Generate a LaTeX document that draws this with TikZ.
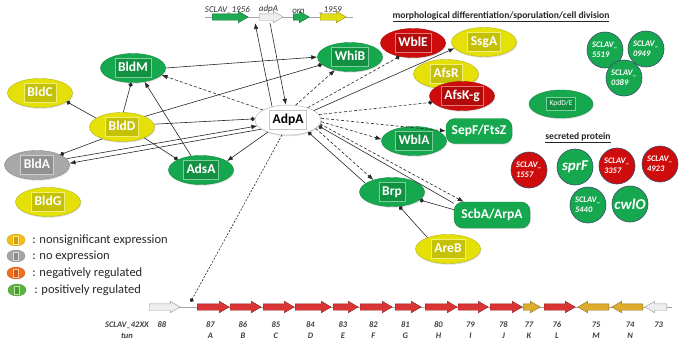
\documentclass[tikz,border=0pt]{standalone}
\usepackage{fontspec}
\setmainfont{Carlito}
\usetikzlibrary{arrows.meta,positioning,shapes.geometric,shapes.arrows,shadows,backgrounds}

\definecolor{nodeGreen}{RGB}{22,168,78}
\definecolor{nodeYellow}{RGB}{228,224,8}
\definecolor{nodeRed}{RGB}{206,12,12}
\definecolor{nodeGray}{RGB}{168,168,168}
\definecolor{circEdge}{RGB}{55,75,105}
\definecolor{geneRed}{RGB}{218,52,52}
\definecolor{geneGold}{RGB}{222,172,44}
\definecolor{geneWhite}{RGB}{238,238,238}
\definecolor{geneGreen}{RGB}{30,170,80}
\definecolor{geneYellow}{RGB}{225,222,20}
\definecolor{legYellow}{RGB}{245,190,20}
\definecolor{legGray}{RGB}{165,165,165}
\definecolor{legOrange}{RGB}{240,110,30}
\definecolor{legGreen}{RGB}{90,180,60}

\newsavebox{\nodetxt}

\begin{document}
\begin{tikzpicture}[
    x=1pt, y=-1pt,
    font=\bfseries\fontsize{13.5}{15}\selectfont,
    boxed/.style 2 args={execute at begin node={\setbox\nodetxt=\hbox\bgroup},
        execute at end node={\egroup\setlength{\fboxsep}{2pt}\fcolorbox{#1}{#2}{\hspace{1pt}\rule[-0.3em]{0pt}{1.1em}\usebox{\nodetxt}\hspace{1pt}}}},
    shade/.style={drop shadow={opacity=0.25, shadow xshift=0.8pt, shadow yshift=-1.2pt}},
    reg/.style={ellipse, draw=#1!80!black, line width=0.4pt, fill=#1, text=white, inner sep=0pt, minimum width=65pt, minimum height=29pt, shade, boxed={#1!55!white}{#1!86!black}},
    hub/.style={ellipse, draw=gray!55, line width=0.5pt, fill=white, text=black, inner sep=0pt, minimum width=66pt, minimum height=30pt, shade, boxed={gray!45}{white}},
    tag/.style={rectangle, rounded corners=9pt, draw=nodeGreen!80!black, line width=0.4pt, fill=nodeGreen, text=white, minimum width=66pt, minimum height=25pt, inner sep=2pt, shade},
    circ/.style={circle, draw=circEdge, line width=0.6pt, fill=#1, text=white, minimum size=36pt, inner sep=0pt, align=left, font=\bfseries\itshape\fontsize{8.5}{10}\selectfont},
    big/.style={font=\bfseries\itshape\fontsize{15}{17}\selectfont},
    head/.style={text=black!85, inner sep=1pt, font=\bfseries\fontsize{9.6}{11}\selectfont},
    legdot/.style={ellipse, fill=#1, draw=#1!80!black, line width=0.3pt, minimum width=18pt, minimum height=12pt, inner sep=0pt,
        path picture={\draw[white!60!#1, fill=#1!85!black, line width=0.3pt] ([shift={(-2.5pt,-4pt)}]path picture bounding box.center) rectangle ([shift={(2.5pt,4pt)}]path picture bounding box.center);}},
    legtxt/.style={text=black!85, inner sep=1pt, font=\fontsize{12.5}{14}\selectfont},
    gene/.style={single arrow, draw=#1!65!black, fill=#1, line width=0.4pt, minimum width=11pt, single arrow head extend=2.5pt, single arrow tip angle=60, inner xsep=0pt, inner ysep=3pt, anchor=tail},
    leftward/.style={shape border rotate=180},
    glab/.style={text=black!75, inner sep=0pt, align=center, font=\bfseries\itshape\fontsize{8.5}{11}\selectfont},
    gl/.style={glab, yshift=-11.5pt},
    tlab/.style={text=black!80, inner sep=0pt, font=\itshape\fontsize{9}{10}\selectfont},
    backbone/.style={draw=gray!70, line width=0.6pt},
    act/.style={-{Latex[length=6pt,width=4.5pt]}, draw=black!85, line width=0.6pt},
    rep/.style={-{Turned Square[length=4.5pt,width=4.5pt]}, draw=black!85, line width=0.6pt},
    dashline/.style={dash pattern=on 3pt off 2pt}
]
    \useasboundingbox (0,0) rectangle (685,343);

    % regulators around AdpA
    \node[reg=nodeGreen] (bldm) at (133,68) {BldM};
    \node[reg=nodeYellow] (bldc) at (40,93) {BldC};
    \node[reg=nodeYellow] (bldd) at (122,127) {BldD};
    \node[reg=nodeGray] (blda) at (37,165) {BldA};
    \node[reg=nodeGreen] (adsa) at (201,170) {AdsA};
    \node[reg=nodeYellow] (bldg) at (48,202) {BldG};
    \node[hub] (adpa) at (288,120) {AdpA};

    % targets
    \node[reg=nodeGreen] (whib) at (350,57) {WhiB};
    \node[reg=nodeRed] (wble) at (413,43) {WblE};
    \node[reg=nodeYellow] (ssga) at (484,42) {SsgA};
    \node[reg=nodeYellow] (afsr) at (446,74) {AfsR};
    \node[reg=nodeRed] (afsk) at (462,96) {AfsK-g};
    \node[tag] (sepf) at (479,131) {SepF/FtsZ};
    \node[reg=nodeGreen] (wbla) at (414,141) {WblA};
    \node[reg=nodeGreen] (brp) at (392,192) {Brp};
    \node[tag, minimum width=76pt, minimum height=26pt] (scba) at (492,215) {ScbA/ArpA};
    \node[reg=nodeYellow] (areb) at (448,249) {AreB};

    % right-hand groups
    \node[head] (hmorph) at (501,17) {\underline{morphological differentiation/sporulation/cell division}};
    \node[circ=nodeGreen] (c5519) at (605,50) {SCLAV\_\\5519};
    \node[circ=nodeGreen] (c0949) at (646,49) {SCLAV\_\\0949};
    \node[circ=nodeGreen] (c0389) at (624,78) {SCLAV\_\\0389};
    \node[reg=nodeGreen, font=\fontsize{7.5}{8.5}\selectfont, minimum width=64pt, minimum height=28pt] (kpdd) at (561,104) {KpdD/E};
    \node[head] (hsecr) at (578,138) {\underline{secreted protein}};
    \node[circ=nodeRed] (c1557) at (529,170) {SCLAV\_\\1557};
    \node[circ=nodeGreen, big] (sprf) at (575,167) {sprF};
    \node[circ=nodeRed] (c3357) at (617,166) {SCLAV\_\\3357};
    \node[circ=nodeRed] (c4923) at (660,164) {SCLAV\_\\4923};
    \node[circ=nodeGreen] (c5440) at (588,205) {SCLAV\_\\5440};
    \node[circ=nodeGreen, big] (cwlo) at (630,204) {cwlO};

    % legend
    \node[legdot=legYellow] (ly) at (16,240) {};
    \node[legtxt, right=6pt of ly] (lyt) {: nonsignificant expression};
    \node[legdot=legGray] (lg) at (16,256) {};
    \node[legtxt, right=6pt of lg] (lgt) {: no expression};
    \node[legdot=legOrange] (lo) at (16,273) {};
    \node[legtxt, right=6pt of lo] (lot) {: negatively regulated};
    \node[legdot=legGreen] (lp) at (17,290) {};
    \node[legtxt, right=7pt of lp] (lpt) {: positively regulated};

    % adpA locus
    \node[gene=geneGreen, minimum height=36pt, label distance=3.5pt, label={[tlab]above:SCLAV\_1956}] (g1956) at (212,17) {};
    \node[gene=geneWhite, minimum height=24pt, label distance=3.5pt, label={[tlab]above:adpA}] (gadpa) at (259,17) {};
    \node[gene=geneGreen, minimum height=16pt, label distance=3.5pt, label={[tlab]above:orn}] (gorn) at (293,17) {};
    \node[gene=geneYellow, minimum height=26pt, label distance=3.5pt, label={[tlab]above:\_1959}] (g1959) at (320,17) {};

    % tunicamycin cluster
    \node[glab, anchor=north] (tagcl) at (127,321.5) {SCLAV\_42XX\\tun};
    \node[gene=geneWhite, minimum height=31pt, label={[gl]below:88}] (g88) at (149,307) {};
    \node[gene=geneRed, minimum height=32pt, label={[gl]below:87\\A}] (g87) at (197,307) {};
    \node[gene=geneRed, minimum height=31pt, label={[gl]below:86\\B}] (g86) at (230,307) {};
    \node[gene=geneRed, minimum height=31pt, label={[gl]below:85\\C}] (g85) at (263,307) {};
    \node[gene=geneRed, minimum height=36pt, label={[gl]below:84\\D}] (g84) at (295,307) {};
    \node[gene=geneRed, minimum height=25pt, label={[gl]below:83\\E}] (g83) at (333,307) {};
    \node[gene=geneRed, minimum height=32pt, label={[gl]below:82\\F}] (g82) at (360,307) {};
    \node[gene=geneRed, minimum height=26pt, label={[gl]below:81\\G}] (g81) at (395,307) {};
    \node[gene=geneRed, minimum height=32pt, label={[gl]below:80\\H}] (g80) at (425,307) {};
    \node[gene=geneRed, minimum height=30pt, label={[gl]below:79\\I}] (g79) at (458,307) {};
    \node[gene=geneRed, minimum height=32pt, label={[gl]below:78\\J}] (g78) at (490,307) {};
    \node[gene=geneGold, minimum height=17pt, label={[gl]below:77\\K}] (g77) at (523,307) {};
    \node[gene=geneRed, minimum height=31pt, label={[gl]below:76\\L}] (g76) at (544,307) {};
    \node[gene=geneGold, leftward, minimum height=31pt, label={[gl]below:75\\M}] (g75) at (609,307) {};
    \node[gene=geneGold, leftward, minimum height=31pt, label={[gl]below:74\\N}] (g74) at (643,307) {};
    \node[gene=geneWhite, leftward, minimum height=22pt, label={[gl]below:73}] (g73) at (667,307) {};

    \begin{scope}[on background layer]
        \draw[backbone] ([xshift=-7pt]g1956.tail) -- ([xshift=6pt]g1959.tip);
        \draw[backbone] (g88.tail) -- ([xshift=5pt]g73.tail);
    \end{scope}

    % left side links
    \draw[act] (bldm.0) -- (whib.180);
    \draw[rep] (bldd.25) -- (whib.195);
    \draw[act, dashline] (adpa.158) -- (bldm.346);
    \draw[rep] (bldd.85) -- (bldm.263);
    \draw[act] (adsa.125) -- (bldm.310);
    \draw[rep] (bldd.161) -- (bldc.342);
    \draw[rep] (bldd.211) -- (blda.24);
    \draw[rep] (bldd.334) -- (adsa.156);
    \draw[rep] (bldd.5) -- (adpa.178);
    \draw[act] (blda.12) -- (adpa.191);
    \draw[act] (adpa.199) -- (blda.3);
    \draw[act] (adpa.211) -- (adsa.19);
    \draw[act] (adpa.140) -- ([xshift=-4pt,yshift=-6pt]gadpa.tail);
    \draw[act] ([xshift=11pt,yshift=-6pt]gadpa.tail) -- (adpa.98);

    % right side links
    \draw[act, dashline] (adpa.63) -- (whib.221);
    \draw[act] (adpa.20) -- (ssga.192);
    \draw[rep, dashline] (adpa.32) -- (wble.225);
    \draw[rep, dashline] (adpa.10) -- (afsk.192);
    \draw[act, dashline] (adpa.3) -- (sepf.180);
    \draw[act, dashline] (adpa.357) -- (wbla.177);
    \draw[act, dashline] (adpa.353) -- (scba.155);
    \draw[rep] (scba.163) -- (adpa.349);
    \draw[act, dashline] (adpa.343) -- (brp.147);
    \draw[rep] (brp.162) -- (adpa.329);
    \draw[rep] (scba.172) -- (brp.344);
    \draw[rep] (areb.151) -- (brp.297);
    \draw[rep, dash pattern=on 2pt off 1.5pt] (adpa.248) -- ([xshift=10pt,yshift=5pt]g88.tip);
\end{tikzpicture}
\end{document}
